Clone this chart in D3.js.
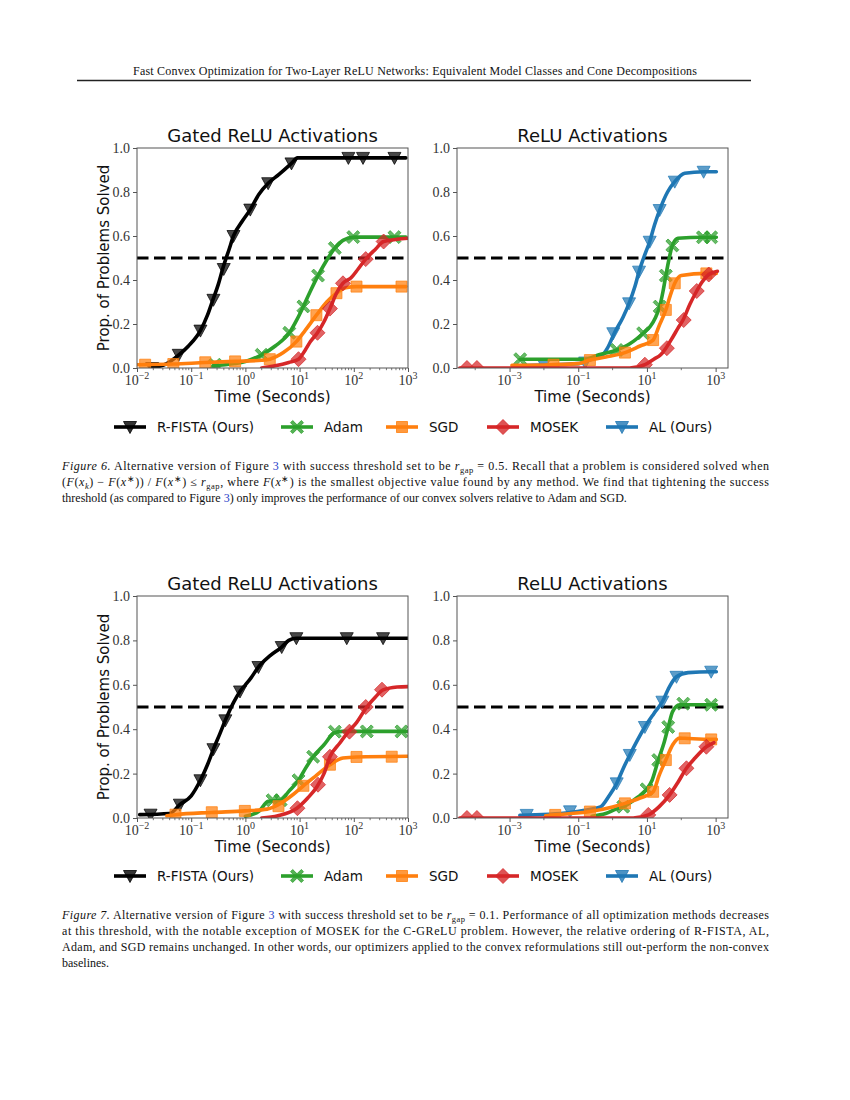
<!DOCTYPE html>
<html>
<head>
<meta charset="utf-8">
<script src="https://cdn.jsdelivr.net/npm/d3@7"></script>
<style>
  body { margin: 0; background: #fff; }
  svg { display: block; }
</style>
</head>
<body>
<script>
// all curves: [log10(seconds), proportion of problems solved]

// ---- Figure 6, gated ReLU panel
const f6gFista = [[-1.75,0],[-1.45,0.02],[-1.25,0.055],[-1.05,0.1],[-0.83,0.17],[-0.7,0.24],[-0.6,0.31],[-0.5,0.38],[-0.42,0.45],[-0.3,0.54],[-0.22,0.6],[-0.05,0.67],[0.09,0.72],[0.25,0.79],[0.42,0.84],[0.62,0.88],[0.85,0.93],[0.96,0.955],[2.96,0.955]];
const f6gFistaMk = [[-1.72,0],[-1.23,0.06],[-0.83,0.17],[-0.59,0.31],[-0.4,0.45],[-0.22,0.6],[0.09,0.72],[0.42,0.84],[0.85,0.93],[1.9,0.955],[2.17,0.955],[2.75,0.955]];
const f6gAdam = [[-0.6,0.01],[-0.2,0.02],[0.0,0.03],[0.3,0.06],[0.55,0.1],[0.81,0.16],[0.95,0.22],[1.07,0.28],[1.2,0.35],[1.34,0.42],[1.5,0.49],[1.65,0.545],[1.8,0.58],[2.0,0.595],[2.96,0.595]];
const f6gAdamMk = [[-0.56,0.015],[0.3,0.06],[0.81,0.16],[1.07,0.28],[1.34,0.42],[1.65,0.545],[1.99,0.595],[2.75,0.595]];
const f6gSgd = [[-2.0,0.015],[-1.33,0.018],[-0.74,0.025],[-0.19,0.03],[0.3,0.035],[0.45,0.04],[0.7,0.07],[0.94,0.12],[1.1,0.17],[1.31,0.24],[1.5,0.3],[1.68,0.34],[1.85,0.365],[2.05,0.37],[2.96,0.37]];
const f6gSgdMk = [[-1.85,0.015],[-1.33,0.018],[-0.74,0.026],[-0.19,0.03],[0.45,0.04],[0.94,0.12],[1.31,0.24],[1.68,0.34],[2.05,0.37],[2.88,0.37]];
const f6gMosek = [[0.3,0],[0.55,0.01],[0.8,0.025],[0.98,0.04],[1.1,0.08],[1.2,0.12],[1.33,0.16],[1.45,0.21],[1.56,0.27],[1.68,0.34],[1.8,0.385],[1.95,0.41],[2.08,0.45],[2.22,0.495],[2.4,0.54],[2.55,0.575],[2.8,0.585],[3.0,0.59]];
const f6gMosekMk = [[0.98,0.04],[1.33,0.16],[1.56,0.27],[1.8,0.385],[2.22,0.495],[2.55,0.575]];

// ---- Figure 6, ReLU panel
const f6rAl = [[-2.9,0.01],[-1.0,0.02],[-0.6,0.04],[-0.35,0.05],[-0.15,0.09],[0.05,0.158],[0.3,0.23],[0.48,0.294],[0.65,0.37],[0.77,0.438],[0.95,0.52],[1.08,0.574],[1.22,0.65],[1.37,0.718],[1.6,0.8],[1.81,0.847],[2.1,0.885],[2.65,0.892],[3.02,0.892]];
const f6rAlMk = [[-2.0,0.015],[-0.8,0.025],[0.02,0.158],[0.48,0.294],[0.77,0.438],[1.08,0.574],[1.37,0.718],[1.81,0.847],[2.65,0.892]];
const f6rAdam = [[-2.7,0.04],[-0.8,0.04],[-0.4,0.06],[0.12,0.082],[0.5,0.11],[0.89,0.158],[1.1,0.19],[1.25,0.23],[1.37,0.279],[1.47,0.35],[1.55,0.42],[1.65,0.5],[1.74,0.557],[1.9,0.59],[2.63,0.594],[3.02,0.594]];
const f6rAdamMk = [[-2.69,0.04],[0.12,0.082],[0.89,0.158],[1.37,0.279],[1.55,0.42],[1.74,0.557],[2.63,0.594],[2.87,0.594]];
const f6rSgd = [[-2.93,0.012],[-1.8,0.015],[-1.0,0.02],[-0.66,0.036],[-0.2,0.05],[0.36,0.07],[0.8,0.1],[1.18,0.127],[1.35,0.19],[1.55,0.264],[1.68,0.33],[1.81,0.385],[2.0,0.42],[2.73,0.43],[3.02,0.43]];
const f6rSgdMk = [[-1.72,0.015],[-0.66,0.036],[0.36,0.07],[1.18,0.127],[1.55,0.264],[1.81,0.385],[2.73,0.43]];
const f6rMosek = [[-4.45,0],[0.5,0],[0.94,0.015],[1.2,0.04],[1.4,0.06],[1.55,0.09],[1.75,0.14],[1.9,0.18],[2.05,0.218],[2.25,0.29],[2.45,0.35],[2.6,0.39],[2.8,0.425],[3.05,0.44]];
const f6rMosekMk = [[-4.24,0],[-3.95,0],[0.94,0.015],[1.58,0.09],[2.07,0.218],[2.45,0.35],[2.8,0.425]];

// ---- Figure 7, gated ReLU panel
const f7gFista = [[-1.95,0.015],[-1.4,0.02],[-1.21,0.06],[-1.0,0.1],[-0.83,0.17],[-0.7,0.24],[-0.59,0.31],[-0.47,0.38],[-0.37,0.44],[-0.22,0.52],[-0.1,0.57],[0.0,0.6],[0.1,0.63],[0.24,0.68],[0.45,0.73],[0.67,0.77],[0.8,0.8],[0.94,0.81],[3.0,0.81]];
const f7gFistaMk = [[-1.75,0.015],[-1.21,0.06],[-0.83,0.17],[-0.59,0.31],[-0.37,0.44],[-0.1,0.57],[0.24,0.68],[0.67,0.77],[0.94,0.81],[1.87,0.81],[2.54,0.81]];
const f7gAdam = [[0.0,0.008],[0.25,0.03],[0.42,0.075],[0.65,0.08],[0.8,0.12],[0.98,0.17],[1.1,0.22],[1.25,0.276],[1.45,0.33],[1.65,0.385],[1.8,0.39],[3.0,0.39]];
const f7gAdamMk = [[0.5,0.08],[0.65,0.08],[0.98,0.17],[1.25,0.276],[1.65,0.389],[2.24,0.39],[2.88,0.39]];
const f7gSgd = [[-1.45,0.01],[-1.29,0.015],[-0.62,0.025],[-0.01,0.032],[0.4,0.04],[0.61,0.06],[0.85,0.1],[1.07,0.145],[1.3,0.19],[1.56,0.24],[1.8,0.27],[2.05,0.275],[3.0,0.278]];
const f7gSgdMk = [[-1.29,0.015],[-0.62,0.026],[-0.01,0.032],[0.61,0.053],[1.07,0.145],[1.56,0.24],[2.05,0.275],[2.7,0.276]];
const f7gMosek = [[0.3,0],[0.6,0.01],[0.95,0.044],[1.15,0.09],[1.32,0.141],[1.45,0.2],[1.56,0.276],[1.75,0.34],[1.9,0.389],[2.05,0.43],[2.24,0.5],[2.4,0.545],[2.54,0.577],[2.8,0.59],[3.0,0.592]];
const f7gMosekMk = [[0.96,0.044],[1.34,0.15],[1.56,0.276],[1.92,0.389],[2.22,0.5],[2.52,0.578]];

// ---- Figure 7, ReLU panel
const f7rAl = [[-2.7,0.012],[-1.24,0.025],[-0.6,0.04],[-0.35,0.05],[-0.1,0.1],[0.12,0.156],[0.3,0.22],[0.5,0.284],[0.72,0.35],[0.94,0.41],[1.2,0.47],[1.45,0.524],[1.65,0.59],[1.86,0.636],[2.2,0.655],[2.87,0.659],[3.02,0.659]];
const f7rAlMk = [[-2.5,0.014],[-1.24,0.03],[0.12,0.156],[0.5,0.284],[0.94,0.41],[1.45,0.524],[1.86,0.636],[2.87,0.659]];
const f7rAdam = [[-0.6,0.008],[-0.2,0.02],[0.1,0.04],[0.31,0.051],[0.7,0.09],[0.99,0.129],[1.15,0.17],[1.33,0.261],[1.5,0.34],[1.62,0.41],[1.75,0.48],[1.95,0.51],[3.02,0.51]];
const f7rAdamMk = [[0.31,0.051],[0.99,0.129],[1.33,0.261],[1.62,0.41],[2.06,0.515],[2.87,0.51]];
const f7rSgd = [[-1.95,0.01],[-1.67,0.014],[-0.66,0.029],[0.0,0.05],[0.36,0.066],[0.8,0.09],[1.18,0.118],[1.35,0.19],[1.55,0.261],[1.75,0.33],[1.95,0.36],[2.1,0.359],[2.87,0.354],[3.02,0.354]];
const f7rSgdMk = [[-1.67,0.014],[-0.66,0.029],[0.36,0.066],[1.18,0.118],[1.55,0.261],[2.1,0.359],[2.87,0.354]];
const f7rMosek = [[-4.45,0],[0.6,0],[1.04,0.014],[1.35,0.05],[1.66,0.104],[1.9,0.16],[2.15,0.224],[2.4,0.27],[2.73,0.321],[2.95,0.34]];
const f7rMosekMk = [[-4.24,0],[-3.95,0],[1.04,0.014],[1.66,0.104],[2.15,0.224],[2.73,0.321]];

const yTicks = [0, 0.2, 0.4, 0.6, 0.8, 1.0];
const gatedXTicks = [-2, -1, 0, 1, 2, 3];
const reluXTicks = [-3, -1, 1, 3];
const reluXMinor = [-4, -2, 0, 2];
const threshold = 0.5;

const methods = ['R-FISTA (Ours)', 'Adam', 'SGD', 'MOSEK', 'AL (Ours)'];
const colors = { 'R-FISTA (Ours)': '#000000', 'Adam': '#2ca02c', 'SGD': '#ff7f0e', 'MOSEK': '#d62728', 'AL (Ours)': '#1f77b4' };
const shapes = { 'R-FISTA (Ours)': 'tri', 'Adam': 'x', 'SGD': 'sq', 'MOSEK': 'dia', 'AL (Ours)': 'tri' };

const SANS = "'DejaVu Sans', sans-serif";
const SERIF = "'Liberation Serif', 'Times New Roman', serif";

const W = 850, H = 1100;
const svg = d3.select('body').append('svg').attr('width', W).attr('height', H);

// marker paths, centred on 0,0
function markerPath(shape) {
  if (shape === 'tri') return 'M-6.5,-5.5L6.5,-5.5L0,6.5Z';
  if (shape === 'sq') return 'M-5.5,-5.5H5.5V5.5H-5.5Z';
  if (shape === 'dia') return 'M0,-7.5L7.5,0L0,7.5L-7.5,0Z';
  // filled X
  const a = 6.5, b = 2.2;
  return `M${-a},${-a + b}L${-a + b},${-a}L0,${-b}L${a - b},${-a}L${a},${-a + b}L${b},0L${a},${a - b}L${a - b},${a}L0,${b}L${-a + b},${a}L${-a},${a - b}L${-b},0Z`;
}

let clipId = 0;
function panel(cfg) {
  const { x0, x1, yTop, yBot, domain, title, yLabel, series } = cfg;
  const x = d3.scaleLog().domain(domain.map(d => Math.pow(10, d))).range([x0, x1]);
  const y = d3.scaleLinear().domain([0, 1]).range([yBot, yTop]);
  const g = svg.append('g');
  const id = 'clip' + (clipId++);
  g.append('clipPath').attr('id', id).append('rect')
    .attr('x', x0).attr('y', yTop).attr('width', x1 - x0).attr('height', yBot - yTop);

  const plot = g.append('g').attr('clip-path', `url(#${id})`);

  plot.append('line')
    .attr('x1', x0).attr('x2', x1).attr('y1', y(threshold)).attr('y2', y(threshold))
    .attr('stroke', '#000').attr('stroke-width', 3).attr('stroke-dasharray', '11.5,5.5');

  const line = d3.line().x(d => x(Math.pow(10, d[0]))).y(d => y(d[1])).curve(d3.curveMonotoneX);
  series.forEach(s => {
    const c = colors[s.name];
    plot.append('path').datum(s.line)
      .attr('fill', 'none').attr('stroke', c).attr('stroke-width', 3.6)
      .attr('stroke-linejoin', 'round').attr('stroke-linecap', 'round')
      .attr('d', line);
    plot.selectAll(null).data(s.marks).enter().append('path')
      .attr('d', markerPath(shapes[s.name]))
      .attr('transform', d => `translate(${x(Math.pow(10, d[0]))},${y(d[1])})`)
      .attr('fill', c).attr('fill-opacity', 0.72)
      .attr('stroke', c).attr('stroke-opacity', 0.72).attr('stroke-width', 1);
  });

  // frame
  g.append('rect').attr('x', x0).attr('y', yTop).attr('width', x1 - x0).attr('height', yBot - yTop)
    .attr('fill', 'none').attr('stroke', '#555').attr('stroke-width', 1);

  // y axis
  const yAx = g.append('g').attr('transform', `translate(${x0},0)`)
    .call(d3.axisLeft(y).tickValues(yTicks).tickSize(4).tickPadding(3).tickFormat(d3.format('.1f')));
  yAx.select('.domain').remove();
  yAx.selectAll('line').attr('stroke', '#555');
  yAx.selectAll('text').attr('font-family', SERIF).attr('font-size', 14).attr('fill', '#333');

  // x axis: majors with 10^n labels, minor ticks
  const major = cfg.majors.map(e => Math.pow(10, e));
  const xAx = g.append('g').attr('transform', `translate(0,${yBot})`)
    .call(d3.axisBottom(x).tickValues(major).tickSize(4).tickFormat(''));
  xAx.select('.domain').remove();
  xAx.selectAll('line').attr('stroke', '#555');
  let minors = [];
  if (cfg.minorDecades) {
    minors = cfg.minorDecades.map(e => Math.pow(10, e));
  } else {
    for (let e = domain[0]; e < domain[1]; e++) {
      for (let k = 2; k <= 9; k++) minors.push(k * Math.pow(10, Math.floor(e)));
    }
  }
  g.append('g').selectAll('line').data(minors.filter(v => x(v) >= x0 && x(v) <= x1)).enter().append('line')
    .attr('x1', d => x(d)).attr('x2', d => x(d)).attr('y1', yBot).attr('y2', yBot + 2.2)
    .attr('stroke', '#555').attr('stroke-width', 0.8);
  const lab = g.append('g').selectAll('text').data(cfg.majors).enter().append('text')
    .attr('x', d => x(Math.pow(10, d))).attr('y', yBot + 17)
    .attr('text-anchor', 'middle').attr('font-family', SERIF).attr('font-size', 14).attr('fill', '#333');
  lab.append('tspan').text('10');
  lab.append('tspan').attr('dy', -6).attr('font-size', 10).text(d => d < 0 ? '\u2212' + (-d) : d);

  // titles and labels
  g.append('text').attr('x', (x0 + x1) / 2).attr('y', yTop - 6).attr('text-anchor', 'middle')
    .attr('font-family', SANS).attr('font-size', 18).attr('fill', '#111').text(title);
  g.append('text').attr('x', (x0 + x1) / 2).attr('y', yBot + 34).attr('text-anchor', 'middle')
    .attr('font-family', SANS).attr('font-size', 15).attr('fill', '#111').text('Time (Seconds)');
  if (yLabel) {
    g.append('text').attr('transform', `translate(${x0 - 28},${(yTop + yBot) / 2}) rotate(-90)`)
      .attr('text-anchor', 'middle').attr('font-family', SANS).attr('font-size', 15).attr('fill', '#111')
      .text('Prop. of Problems Solved');
  }
}

function legend(yc) {
  const items = [
    { name: 'R-FISTA (Ours)', lx: 114, tx: 157 },
    { name: 'Adam', lx: 281, tx: 324 },
    { name: 'SGD', lx: 386, tx: 429 },
    { name: 'MOSEK', lx: 487, tx: 530 },
    { name: 'AL (Ours)', lx: 606, tx: 649 }
  ];
  const g = svg.append('g');
  items.forEach(it => {
    const c = colors[it.name];
    g.append('line').attr('x1', it.lx).attr('x2', it.lx + 32).attr('y1', yc).attr('y2', yc)
      .attr('stroke', c).attr('stroke-width', 3.6);
    g.append('path').attr('d', markerPath(shapes[it.name]))
      .attr('transform', `translate(${it.lx + 16},${yc})`)
      .attr('fill', c).attr('fill-opacity', 0.8).attr('stroke', c).attr('stroke-opacity', 0.8);
    g.append('text').attr('x', it.tx).attr('y', yc + 5).attr('font-family', SANS)
      .attr('font-size', 13.5).attr('fill', '#111').text(it.name);
  });
}

// text line made of segments: [text, style]; style: '' | 'i' | 'b' | 'sub' | 'isub' | 'sup'
function textLine(x, y, segs, width, size) {
  const t = svg.append('text').attr('x', x).attr('y', y)
    .attr('font-family', SERIF).attr('font-size', size || 12).attr('fill', '#111');
  if (width) t.attr('textLength', width).attr('lengthAdjust', 'spacing');
  let off = 0;
  segs.forEach(([s, st]) => {
    const sp = t.append('tspan').text(s);
    let want = 0;
    if (st === 'i') sp.attr('font-style', 'italic');
    if (st === 'b') sp.attr('fill', '#1f3cc8');
    if (st === 'sub') { want = 3; sp.attr('font-size', 8.5); }
    if (st === 'isub') { want = 3; sp.attr('font-size', 8.5).attr('font-style', 'italic'); }
    if (st === 'sup') { want = -4; sp.attr('font-size', 8.5); }
    if (want !== off) { sp.attr('dy', want - off); off = want; }
  });
  return t;
}

// page header
textLine(133, 75, [['Fast Convex Optimization for Two-Layer ReLU Networks: Equivalent Model Classes and Cone Decompositions', '']], 564, 12);
svg.append('line').attr('x1', 77).attr('x2', 751).attr('y1', 80.5).attr('y2', 80.5)
  .attr('stroke', '#222').attr('stroke-width', 1.6);

// Figure 6
panel({ x0: 137, x1: 408, yTop: 148, yBot: 368, domain: [-2, 3], majors: gatedXTicks,
  title: 'Gated ReLU Activations', yLabel: true,
  series: [
    { name: 'R-FISTA (Ours)', line: f6gFista, marks: f6gFistaMk },
    { name: 'Adam', line: f6gAdam, marks: f6gAdamMk },
    { name: 'SGD', line: f6gSgd, marks: f6gSgdMk },
    { name: 'MOSEK', line: f6gMosek, marks: f6gMosekMk }
  ] });
panel({ x0: 457, x1: 728, yTop: 148, yBot: 368, domain: [-4.53, 3.36], majors: reluXTicks, minorDecades: reluXMinor,
  title: 'ReLU Activations', yLabel: false,
  series: [
    { name: 'AL (Ours)', line: f6rAl, marks: f6rAlMk },
    { name: 'Adam', line: f6rAdam, marks: f6rAdamMk },
    { name: 'SGD', line: f6rSgd, marks: f6rSgdMk },
    { name: 'MOSEK', line: f6rMosek, marks: f6rMosekMk }
  ] });
legend(427);

textLine(62, 470, [['Figure 6.', 'i'], ['  Alternative version of Figure ', ''], ['3', 'b'], [' with success threshold set to be ', ''], ['r', 'i'], ['gap', 'sub'], [' = 0.5. Recall that a problem is considered solved when', '']], 707);
textLine(62, 486, [['(', ''], ['F', 'i'], ['(', ''], ['x', 'i'], ['k', 'isub'], [') \u2212 ', ''], ['F', 'i'], ['(', ''], ['x', 'i'], ['\u2217', 'sup'], ['))', ''], [' / ', ''], ['F', 'i'], ['(', ''], ['x', 'i'], ['\u2217', 'sup'], [') \u2264 ', ''], ['r', 'i'], ['gap', 'sub'], [', where ', ''], ['F', 'i'], ['(', ''], ['x', 'i'], ['\u2217', 'sup'], [')', ''], [' is the smallest objective value found by any method. We find that tightening the success', '']], 707);
textLine(62, 502, [['threshold (as compared to Figure ', ''], ['3', 'b'], [') only improves the performance of our convex solvers relative to Adam and SGD.', '']]);

// Figure 7
panel({ x0: 137, x1: 408, yTop: 596, yBot: 818, domain: [-2, 3], majors: gatedXTicks,
  title: 'Gated ReLU Activations', yLabel: true,
  series: [
    { name: 'R-FISTA (Ours)', line: f7gFista, marks: f7gFistaMk },
    { name: 'Adam', line: f7gAdam, marks: f7gAdamMk },
    { name: 'SGD', line: f7gSgd, marks: f7gSgdMk },
    { name: 'MOSEK', line: f7gMosek, marks: f7gMosekMk }
  ] });
panel({ x0: 457, x1: 728, yTop: 596, yBot: 818, domain: [-4.53, 3.36], majors: reluXTicks, minorDecades: reluXMinor,
  title: 'ReLU Activations', yLabel: false,
  series: [
    { name: 'AL (Ours)', line: f7rAl, marks: f7rAlMk },
    { name: 'Adam', line: f7rAdam, marks: f7rAdamMk },
    { name: 'SGD', line: f7rSgd, marks: f7rSgdMk },
    { name: 'MOSEK', line: f7rMosek, marks: f7rMosekMk }
  ] });
legend(876);

textLine(62, 919, [['Figure 7.', 'i'], ['  Alternative version of Figure ', ''], ['3', 'b'], [' with success threshold set to be ', ''], ['r', 'i'], ['gap', 'sub'], [' = 0.1. Performance of all optimization methods decreases', '']], 707);
textLine(62, 935, [['at this threshold, with the notable exception of MOSEK for the C-GReLU problem. However, the relative ordering of R-FISTA, AL,', '']], 707);
textLine(62, 951, [['Adam, and SGD remains unchanged. In other words, our optimizers applied to the convex reformulations still out-perform the non-convex', '']], 707);
textLine(62, 967, [['baselines.', '']]);
</script>
</body>
</html>
